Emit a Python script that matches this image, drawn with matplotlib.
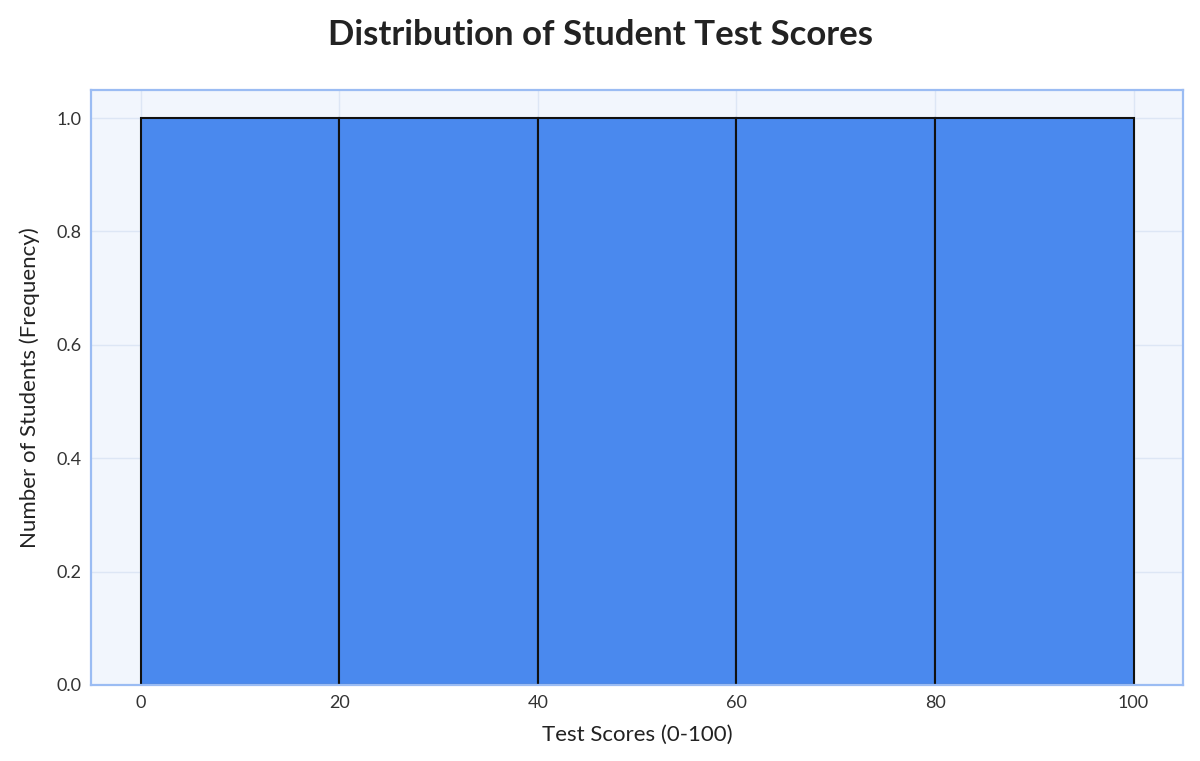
import numpy as np
import matplotlib
matplotlib.use("Agg")
import matplotlib.pyplot as plt

plt.rcParams['font.family'] = ['Lato', 'DejaVu Sans']

# histogram data: bin edges and count per bin
bin_edges = [0, 20, 40, 60, 80, 100]
counts = [1, 1, 1, 1, 1]

fig, ax = plt.subplots(figsize=(12, 7.61), dpi=100)
fig.subplots_adjust(left=0.076, right=0.986, top=0.882, bottom=0.1)

ax.set_facecolor('#f2f6fd')
ax.hist(bin_edges[:-1], bins=bin_edges, weights=counts,
        color='#4a89ee', edgecolor='#111111', linewidth=1.5, zorder=2)

ax.set_xlim(-5, 105)
ax.set_ylim(0, 1.05)
ax.set_xticks([0, 20, 40, 60, 80, 100])
ax.set_yticks(np.arange(0, 1.01, 0.2))
ax.yaxis.set_major_formatter(plt.FormatStrFormatter('%.1f'))

ax.grid(True, color='#dde6f5', linewidth=1, zorder=0)
ax.set_axisbelow(True)
for s in ax.spines.values():
    s.set_color('#9bbcf3')
    s.set_linewidth(1.6)
ax.tick_params(length=0, labelsize=13, colors='#333333', pad=7)

ax.set_xlabel('Test Scores (0-100)', fontsize=16, color='#222222', labelpad=10)
ax.set_ylabel('Number of Students (Frequency)', fontsize=16, color='#222222', labelpad=12)
fig.suptitle('Distribution of Student Test Scores', fontsize=25, fontweight='bold',
             color='#222222', y=0.975)

fig.savefig('out.png', dpi=100)
